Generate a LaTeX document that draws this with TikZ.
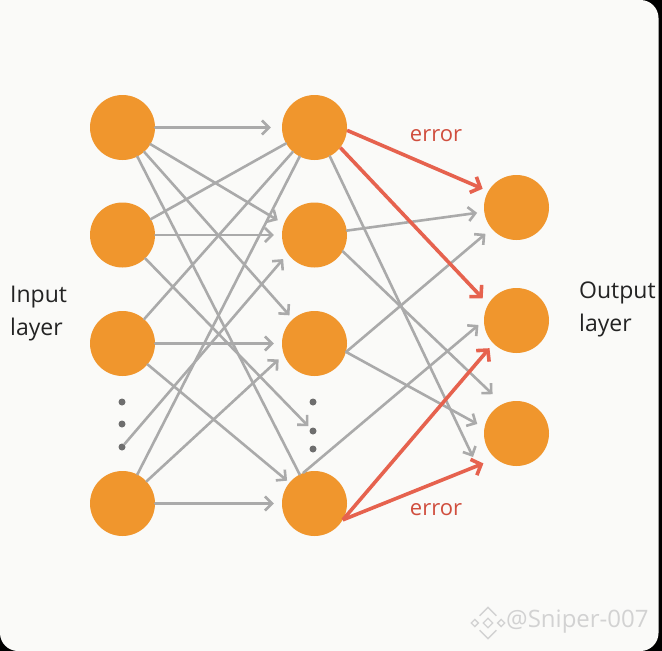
\documentclass[tikz,border=0pt]{standalone}
\usepackage{fontspec}
\setmainfont{Open Sans}
\usetikzlibrary{arrows.meta}
\definecolor{bg}{RGB}{250,250,248}
\definecolor{neur}{RGB}{240,150,45}
\definecolor{edgegray}{RGB}{170,170,170}
\definecolor{errred}{RGB}{230,98,78}
\definecolor{errtext}{RGB}{208,78,62}
\definecolor{labtext}{RGB}{35,35,35}
\definecolor{dotgray}{RGB}{110,110,110}
\definecolor{wmgray}{RGB}{210,210,210}
\begin{document}
\begin{tikzpicture}[x=1pt,y=-1pt,
  neuron/.style={circle,fill=neur,minimum size=65pt,inner sep=0pt,draw=none},
  dotn/.style={circle,fill=dotgray,minimum size=7pt,inner sep=0pt},
  gline/.style={draw=edgegray,line width=2.6pt,line cap=round},
  garrow/.style={gline,-{Straight Barb[length=7pt,width=14pt]}},
  rarrow/.style={draw=errred,line width=3.6pt,-{Straight Barb[length=8pt,width=17pt]}},
  laytext/.style={text=labtext,font=\fontsize{23}{33}\selectfont,align=left,anchor=west,inner sep=0pt},
  errlab/.style={text=errtext,font=\fontsize{22}{26}\selectfont,inner sep=0pt},
  wmtext/.style={text=wmgray,font=\fontsize{24}{26}\selectfont,inner sep=0pt,anchor=west}
]
\fill[black] (0,0) rectangle (662,651);
\fill[bg,rounded corners=18pt] (0,0) rectangle (658.5,651);
\fill[bg] (0,0) rectangle (40,40);
\useasboundingbox (0,0) rectangle (662,651);

% neurons
\node[neuron] (i1) at (122.5,127.5) {};
\node[neuron] (i2) at (122.5,235) {};
\node[neuron] (i3) at (122.5,343.5) {};
\node[neuron] (i4) at (122.5,503.5) {};
\node[neuron] (h1) at (314.5,127.5) {};
\node[neuron] (h2) at (314.5,235) {};
\node[neuron] (h3) at (314.5,343.5) {};
\node[neuron] (h4) at (314.5,503.5) {};
\node[neuron] (o1) at (516.5,207.5) {};
\node[neuron] (o2) at (516.5,320.5) {};
\node[neuron] (o3) at (516.5,433.5) {};

% dots
\node[dotn] (id1) at (122,402) {};
\node[dotn] (id2) at (122,424) {};
\node[dotn] (id3) at (122,447) {};
\node[dotn] (hd1) at (313,402) {};
\node[dotn] (hd2) at (313,431) {};
\node[dotn] (hd3) at (313,449) {};

% input -> hidden
\draw[garrow,shorten >=11pt] (i1) -- (h1);
\draw[garrow,shorten >=7pt] (i1) -- (h2.160);
\draw[garrow,shorten >=5pt] (i1) -- (h3);
\draw[gline] (i1) -- (h4);
\draw[gline] (i2) -- (h1);
\draw[garrow,shorten >=8pt] (i2) -- (h2);
\draw[garrow,shorten >=3pt] (i2) -- (hd2);
\draw[gline] (i3) -- (h1);
\draw[garrow,shorten >=8pt] (i3) -- (h3);
\draw[garrow,shorten >=3pt] (i3) -- (h4);
\draw[gline] (i4) -- (h1);
\draw[garrow,shorten >=7pt] (i4) -- (h3.200);
\draw[garrow,shorten >=8pt] (i4) -- (h4);
\draw[garrow,shorten >=7pt] (id3) -- (h2.215);

% hidden -> output
\coordinate (tipA) at (473,457);
\draw[garrow] (h1.-62) -- (tipA);
\draw[garrow,shorten >=7pt] (h2) -- (o1);
\draw[garrow,shorten >=14pt] (h2.-30) -- (o3.115);
\draw[garrow,shorten >=8pt] (h3.-15) -- (o1);
\draw[garrow,shorten >=8pt] (h3.-15) -- (o3.170);
\draw[garrow,shorten >=7pt] (h4.110) -- (o2.180);

% error arrows
\draw[rarrow,shorten >=6pt] (h1.-5) -- (o1.150);
\draw[rarrow,shorten >=8pt] (h1.-38) -- (o2.150);
\draw[rarrow,shorten >=6pt] (h4.-30) -- (o2.-135);
\draw[rarrow,shorten >=13pt] (h4.-30) -- (o3.-130);

% labels
\node[errlab] (e1) at (436,136) {error};
\node[errlab] (e2) at (436,510) {error};
\node[laytext] (inl) at (10,314) {Input\\layer};
\node[laytext] (outl) at (579,309) {Output\\layer};

% watermark
\begin{scope}[shift={(488,623)},scale=1.2,draw=wmgray,line width=1.3pt]
  \draw (0,-4) -- (4,0) -- (0,4) -- (-4,0) -- cycle;
  \draw (-11,-3) -- (-8,0) -- (-11,3) -- (-14,0) -- cycle;
  \draw (11,-3) -- (14,0) -- (11,3) -- (8,0) -- cycle;
  \draw (-7,-6) -- (0,-13) -- (7,-6);
  \draw (-7,6) -- (0,13) -- (7,6);
\end{scope}
\node[wmtext] (wm) at (506,622) {@Sniper-007};
\end{tikzpicture}
\end{document}
